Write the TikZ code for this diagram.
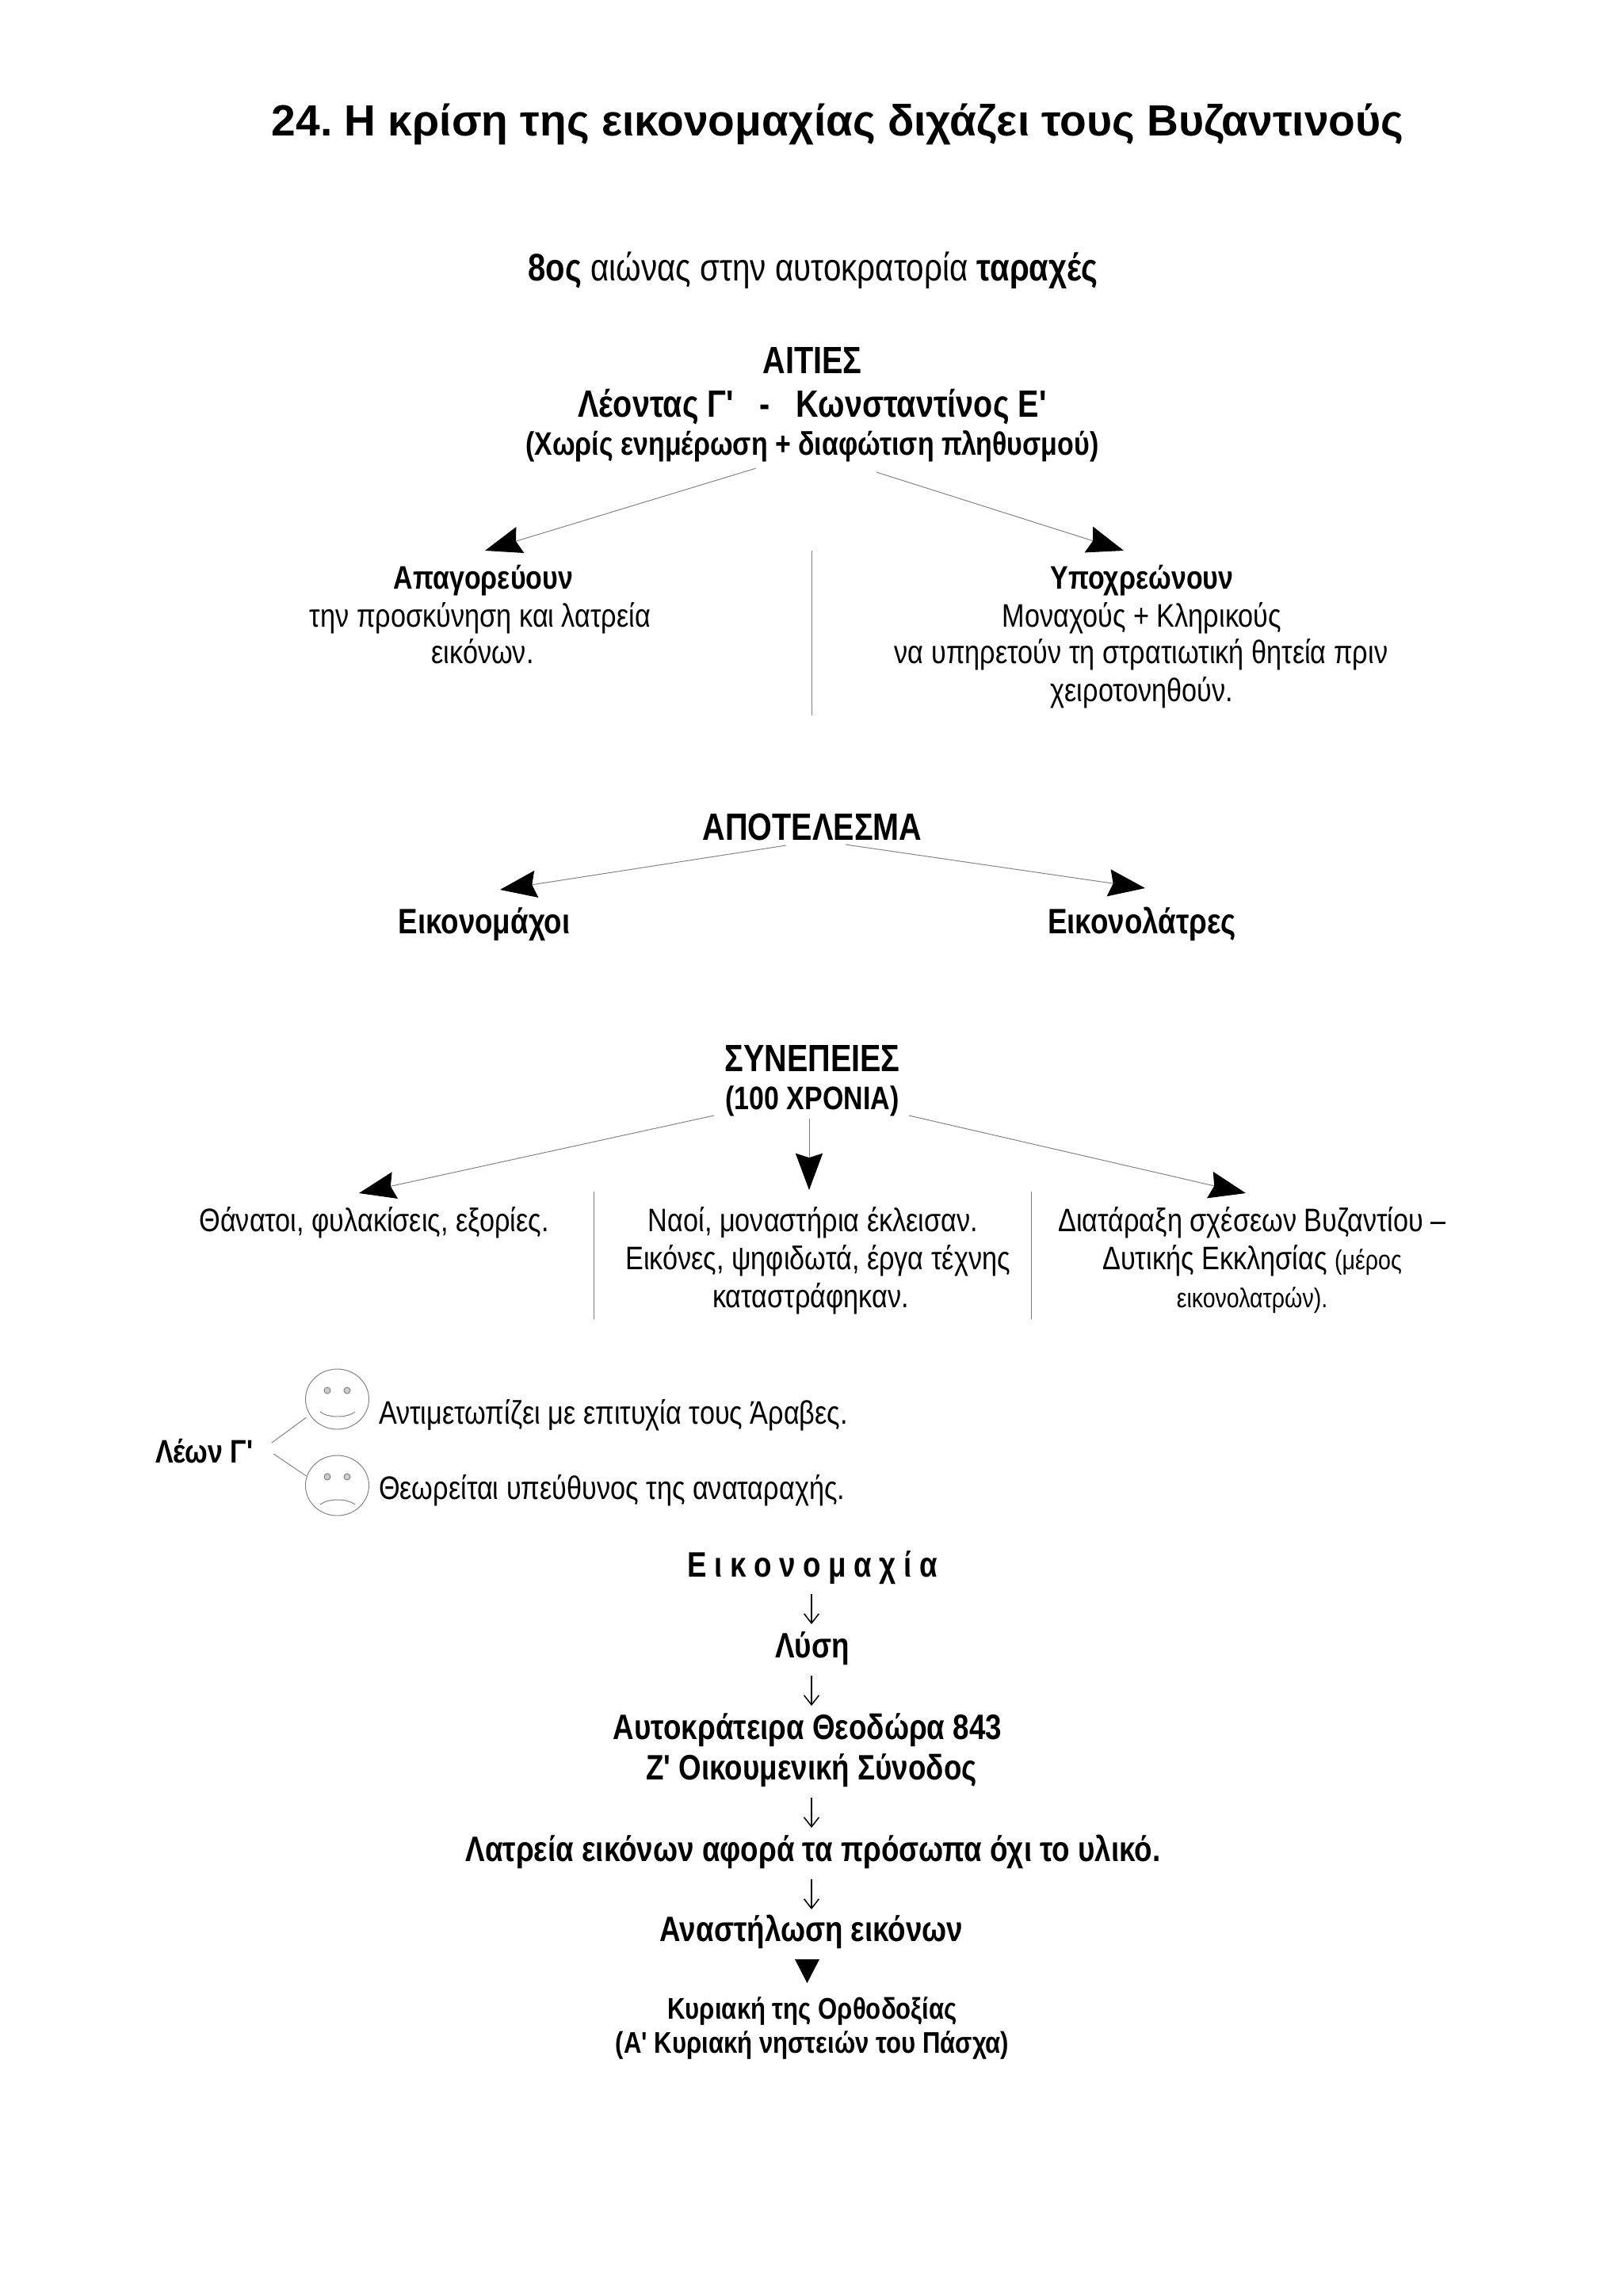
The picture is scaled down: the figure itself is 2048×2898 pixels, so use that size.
\documentclass[tikz,border=0pt]{standalone}
\usepackage{fontspec}
\usetikzlibrary{arrows.meta}
\newfontfamily\wide[Ligatures=ResetAll]{Liberation Sans}
\newfontfamily\nar[Ligatures=ResetAll,FakeStretch=0.833,BoldFeatures={FakeStretch=0.825}]{Liberation Sans}
\newcommand{\lspc}{\kern2.8pt\relax}
\tikzset{
 x=0.2917pt,y=-0.2917pt,
 every node/.style={inner sep=0pt,outer sep=0pt,anchor=base,align=center},
 body/.style={font=\nar\fontsize{12}{14}\selectfont},
 bodyb/.style={font=\nar\bfseries\fontsize{12}{14}\selectfont},
 subb/.style={font=\nar\bfseries\fontsize{13}{15}\selectfont},
 smallb/.style={font=\nar\bfseries\fontsize{11}{13}\selectfont},
 head/.style={font=\nar\bfseries\fontsize{14}{16}\selectfont},
 rule/.style={draw=black!50,line width=0.28pt},
 link/.style={draw=black!50,line width=0.28pt,-{Stealth[length=13.5pt,width=10pt,inset=1.6pt,fill=black,color=black]}},
 thin arrow/.style={draw=black,line width=0.45pt,-{Straight Barb[length=3.5pt,width=5.5pt]}},
}
\begin{document}
\begin{tikzpicture}
\frenchspacing
\useasboundingbox[fill=white] (0,0) rectangle (2048,2898);
\node[font=\wide\bfseries\fontsize{16.08}{18}\selectfont] (title) at (1057,172) {24. Η κρίση της εικονομαχίας διχάζει τους Βυζαντινούς};
\node[font=\nar\fontsize{14.15}{16}\selectfont] (intro) at (1026,355) {{\bfseries 8ος} αιώνας στην αυτοκρατορία {\bfseries ταραχές}};
\node[head] (aities) at (1025,472) {ΑΙΤΙΕΣ};
\node[head] (leon) at (1025,527) {Λέοντας Γ'\ \ \ -\ \ \ Κωνσταντίνος Ε'};
\node[bodyb] (xoris) at (1025,575) {(Χωρίς ενημέρωση + διαφώτιση πληθυσμού)};
\node[bodyb] (apag) at (610,744) {Απαγορεύουν};
\node[body] (apag2) at (606,792) {την προσκύνηση και λατρεία};
\node[body] (apag3) at (609,838) {εικόνων.};
\node[bodyb] (ypox) at (1441,744) {Υποχρεώνουν};
\node[body] (ypox2) at (1441,792) {Μοναχούς + Κληρικούς};
\node[body] (ypox3) at (1440,838) {να υπηρετούν τη στρατιωτική θητεία πριν};
\node[body] (ypox4) at (1441,886) {χειροτονηθούν.};
\draw[link] ([shift={(-71,16)}]xoris.base) -- ([shift={(2,-49)}]apag.base);
\draw[link] ([shift={(81,21)}]xoris.base) -- ([shift={(-23,-49)}]ypox.base);
\coordinate (d1a) at (1024,695); \coordinate (d1b) at (1024,903);
\draw[rule] (d1a) -- (d1b);
\node[head] (apot) at (1025,1060) {ΑΠΟΤΕΛΕΣΜΑ};
\node[subb] (mach) at (611,1178) {Εικονομάχοι};
\node[subb] (lat) at (1441,1178) {Εικονολάτρες};
\draw[link] ([shift={(-33,7)}]apot.base) -- ([shift={(20,-55)}]mach.base);
\draw[link] ([shift={(42,6)}]apot.base) -- ([shift={(4,-57)}]lat.base);
\node[head] (syn) at (1025,1352) {ΣΥΝΕΠΕΙΕΣ};
\node[bodyb] (xron) at (1025,1400) {(100 ΧΡΟΝΙΑ)};
\node[body] (thanatoi) at (472,1554) {Θάνατοι, φυλακίσεις, εξορίες.};
\node[body] (naoi) at (1026,1554) {Ναοί, μοναστήρια έκλεισαν.};
\node[body] (naoi2) at (1032,1602) {Εικόνες, ψηφιδωτά, έργα τέχνης};
\node[body] (naoi3) at (1023,1650) {καταστράφηκαν.};
\node[body] (diat) at (1580,1554) {Διατάραξη σχέσεων Βυζαντίου –};
\node[body] (diat2) at (1580,1602) {Δυτικής Εκκλησίας {\fontsize{10}{12}\selectfont (μέρος}};
\node[body] (diat3) at (1580,1650) {{\fontsize{10}{12}\selectfont εικονολατρών).}};
\draw[link] ([shift={(-124,8)}]xron.base) -- ([shift={(-19,-48)}]thanatoi.base);
\draw[link] ([shift={(-4,12)}]xron.base) -- ([shift={(-5,-52)}]naoi.base);
\draw[link] ([shift={(122,8)}]xron.base) -- ([shift={(-8,-48)}]diat.base);
\coordinate (d2a) at (749,1504); \coordinate (d2b) at (749,1665);
\coordinate (d3a) at (1301,1504); \coordinate (d3b) at (1301,1665);
\draw[rule] (d2a) -- (d2b);
\draw[rule] (d3a) -- (d3b);
\node[bodyb,anchor=base west] (leo) at (196,1846) {Λέων Γ'};
\node[body,anchor=base west] (good) at (478,1797) {Αντιμετωπίζει με επιτυχία τους Άραβες.};
\node[body,anchor=base west] (bad) at (478,1892) {Θεωρείται υπεύθυνος της αναταραχής.};
\coordinate (f1) at (425.5,1766);
\coordinate (f2) at (425.5,1875);
\draw[rule] (f1) ellipse [x radius=40,y radius=38];
\draw[rule] (f2) ellipse [x radius=40,y radius=38];
\draw[rule,fill=black!20] (413,1755) circle [radius=4];
\draw[rule,fill=black!20] (438,1755) circle [radius=4];
\draw[rule,fill=black!20] (413,1864) circle [radius=4];
\draw[rule,fill=black!20] (438,1864) circle [radius=4];
\draw[rule] (404,1782) .. controls (414,1790) and (438,1790) .. (448,1782);
\draw[rule] (404,1899) .. controls (414,1891) and (438,1891) .. (448,1899);
\draw[rule] ([shift={(147,-25)}]leo.base west) -- ([shift={(-39,23)}]f1);
\draw[rule] ([shift={(149,-11)}]leo.base west) -- ([shift={(-39,-12)}]f2);
\node[subb] (e1) at (1025,1990) {Ε\lspc ι\lspc κ\lspc ο\lspc ν\lspc ο\lspc μ\lspc α\lspc χ\lspc ί\lspc α};
\node[subb] (e2) at (1025,2092) {Λύση};
\node[subb] (e3) at (1019,2195) {Αυτοκράτειρα Θεοδώρα 843};
\node[subb] (e3b) at (1024,2246) {Ζ' Οικουμενική Σύνοδος};
\node[subb] (e4) at (1026,2349) {Λατρεία εικόνων αφορά τα πρόσωπα όχι το υλικό.};
\node[subb] (e5) at (1024,2450) {Αναστήλωση εικόνων};
\node[smallb] (e6) at (1025,2548) {Κυριακή της Ορθοδοξίας};
\node[smallb] (e6b) at (1025,2591) {(Α' Κυριακή νηστειών του Πάσχα)};
\draw[thin arrow] ([shift={(-1,22)}]e1.base) -- ([shift={(-1,60)}]e1.base);
\draw[thin arrow] ([shift={(-1,23)}]e2.base) -- ([shift={(-1,61)}]e2.base);
\draw[thin arrow] ([shift={(0,23)}]e3b.base) -- ([shift={(0,61)}]e3b.base);
\draw[thin arrow] ([shift={(-2,23)}]e4.base) -- ([shift={(-2,61)}]e4.base);
\coordinate (tri) at (1018.5,2503);
\fill[black] (tri) -- ++(-15.5,-30) -- ++(31,0) -- cycle;
\end{tikzpicture}
\end{document}
